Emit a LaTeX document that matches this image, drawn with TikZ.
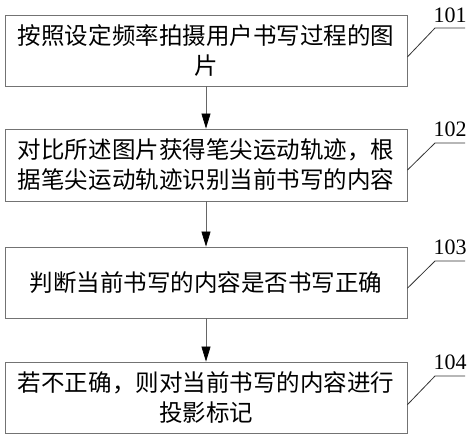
\documentclass[tikz,border=0pt]{standalone}
\usepackage{fontspec}
\setmainfont{Liberation Serif}
\newfontfamily\cjk{Noto Sans CJK SC}
\usetikzlibrary{arrows.meta,calc}
\begin{document}
\begin{tikzpicture}[x=1bp,y=-1bp,
  stepbox/.style={draw=black!55, line width=0.8bp, minimum width=402bp, inner sep=0pt, align=center, font=\cjk\fontsize{23.5bp}{30bp}\selectfont},
  lab/.style={inner sep=0pt, font=\fontsize{22bp}{24bp}\selectfont},
  flow/.style={draw=black!60, line width=0.7bp, -{Triangle[length=15bp,width=9bp,color=black]}},
  leader/.style={draw=black!80, line width=0.8bp}]
\useasboundingbox (0,0) rectangle (474,441);
\node[stepbox, minimum height=71bp] (b1) at (206,50.5) {按照设定频率拍摄用户书写过程的图\\片};
\node[stepbox, minimum height=72bp] (b2) at (206,165) {对比所述图片获得笔尖运动轨迹，根\\据笔尖运动轨迹识别当前书写的内容};
\node[stepbox, minimum height=71bp] (b3) at (206,282.5) {判断当前书写的内容是否书写正确};
\node[stepbox, minimum height=71bp] (b4) at (206,397.5) {若不正确，则对当前书写的内容进行\\投影标记};
\draw[flow] (b1) -- (b2);
\draw[flow] (b2) -- (b3);
\draw[flow] (b3) -- (b4);
\node[lab] (l1) at (450,15) {101};
\node[lab] (l2) at (450,129) {102};
\node[lab] (l3) at (450,247) {103};
\node[lab] (l4) at (450,362) {104};
\coordinate (k1) at (435,28);  \coordinate (e1) at (465,28);
\coordinate (k2) at (435,143); \coordinate (e2) at (465,143);
\coordinate (k3) at (435,261); \coordinate (e3) at (465,261);
\coordinate (k4) at (435,376); \coordinate (e4) at (465,376);
\draw[leader] ($(b1.north east)!0.59!(b1.south east)$) -- (k1) -- (e1);
\draw[leader] ($(b2.north east)!0.57!(b2.south east)$) -- (k2) -- (e2);
\draw[leader] ($(b3.north east)!0.58!(b3.south east)$) -- (k3) -- (e3);
\draw[leader] ($(b4.north east)!0.60!(b4.south east)$) -- (k4) -- (e4);
\end{tikzpicture}
\end{document}
